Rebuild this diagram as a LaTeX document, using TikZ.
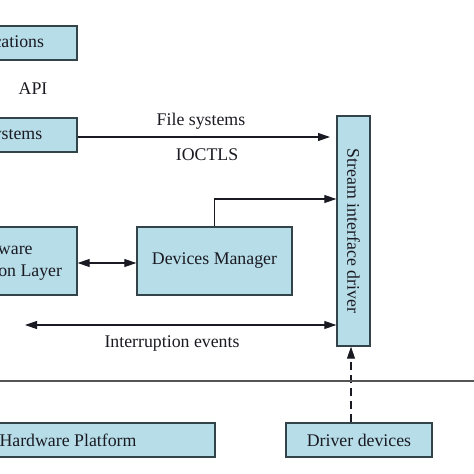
\documentclass[tikz,border=0pt]{standalone}
\usepackage{fontspec}
\setmainfont{Liberation Serif}
\usetikzlibrary{arrows.meta}
\definecolor{boxfill}{HTML}{B7DDE8}
\definecolor{boxline}{HTML}{33434A}
\definecolor{txt}{HTML}{1A1A22}
\definecolor{sepline}{HTML}{555555}
\begin{document}
\begin{tikzpicture}[x=1pt,y=-1pt,
  box/.style={draw=boxline,fill=boxfill,line width=1.4pt,inner sep=0pt,
    font=\fontsize{17.8}{22}\selectfont,text=txt,align=center},
  lbl/.style={font=\fontsize{17.8}{22}\selectfont,text=txt,inner sep=0pt},
  conn/.style={draw=txt,line width=1.1pt},
  tip/.style={-{Triangle[length=12pt,width=8pt]}},
  dtip/.style={{Triangle[length=12pt,width=8pt]}-{Triangle[length=12pt,width=8pt]}}]
\useasboundingbox (0,0) rectangle (474,474);
\clip (0,0) rectangle (474,474);
\fill[white] (0,0) rectangle (474,474);

% boxes
\node[box,minimum width=157pt,minimum height=34pt] (apps) at (-1.5,43) {Applications};
\node[box,minimum width=158pt,minimum height=34pt] (fs) at (-2,135) {File systems};
\node[box,minimum width=159pt,minimum height=68pt] (hal) at (-2.5,261) {Hardware\\Abstraction Layer};
\node[box,minimum width=155pt,minimum height=68pt] (dm) at (214.5,261) {Devices Manager};
\node[box,minimum width=33pt,minimum height=230pt] (sid) at (353.5,231) {};
\node[lbl,rotate=-90] (sidt) at (sid.center) {Stream interface driver};
\node[box,minimum width=294pt,minimum height=34pt] (hp) at (68,440) {Hardware Platform};
\node[box,minimum width=146pt,minimum height=34pt] (dd) at (359,440) {Driver devices};

% labels
\node[lbl] (api) at (33,89) {API};
\node[lbl] (fsl) at (201,121) {File systems};
\node[lbl] (ioc) at (207,155) {IOCTLS};
\node[lbl] (intr) at (172,343) {Interruption events};

% coordinates
\coordinate (fsend) at (330,137);
\coordinate (intl) at (25,325);
\coordinate (sepl) at (0,381);
\coordinate (sepr) at (474,381);

% connectors
\draw[conn,tip] ([yshift=-2pt]fs.east) -- (fsend);
\draw[conn,tip] (dm.north) |- ([yshift=32pt]sid.west);
\draw[conn,dtip] ([yshift=-2pt]hal.east) -- ([yshift=-2pt]dm.west);
\draw[conn,dtip] (intl) -- (sid.west |- intl);
\draw[conn,tip,dash pattern=on 8pt off 5pt] ([xshift=-8pt]dd.north) -- ([xshift=-2.5pt]sid.south);
\draw[draw=sepline,line width=2pt] (sepl) -- (sepr);
\end{tikzpicture}
\end{document}
